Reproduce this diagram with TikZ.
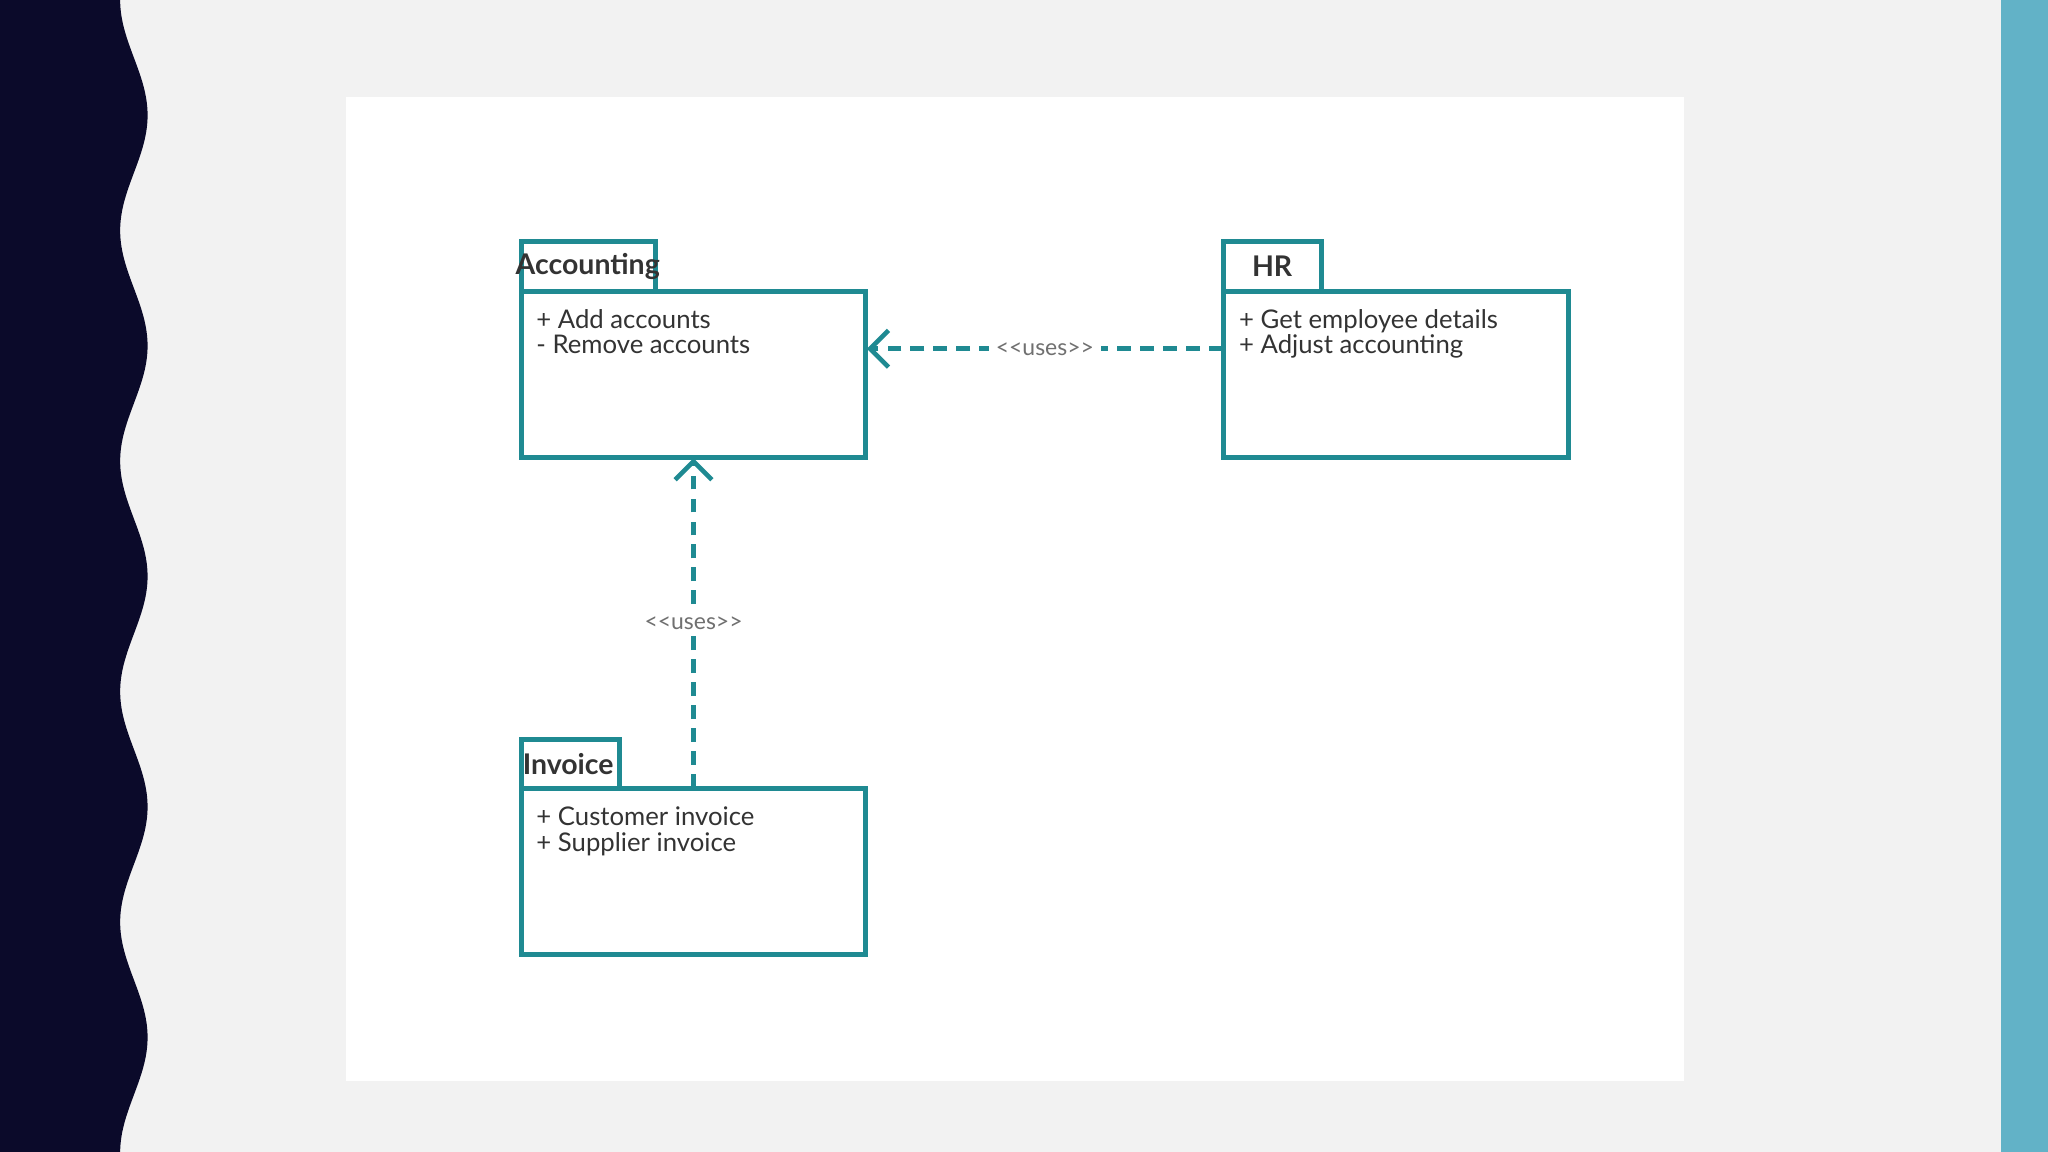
\documentclass[tikz,border=0pt]{standalone}
\usepackage{fontspec}
\setmainfont{Lato}
\usetikzlibrary{arrows.meta}
\definecolor{bg}{HTML}{F2F2F2}
\definecolor{navy}{HTML}{0B0A2A}
\definecolor{band}{HTML}{62B2C7}
\definecolor{teal}{HTML}{1F8A92}
\definecolor{lbl}{HTML}{707070}
\definecolor{txt}{HTML}{333333}
\tikzset{
  pkg/.style={draw=teal, line width=1.1pt, fill=white},
  tabtxt/.style={font=\fontsize{6.2}{7}\selectfont\bfseries, text=txt},
  bodytxt/.style={font=\fontsize{5.6}{5.6}\selectfont, text=txt, align=left, anchor=north west, inner sep=0pt},
  dep/.style={draw=teal, line width=1pt, dash pattern=on 3pt off 2pt, -{Straight Barb[length=4pt,width=8pt]}},
  usel/.style={font=\fontsize{5}{6}\selectfont, text=lbl, fill=white, inner sep=1.5pt}
}
\begin{document}
\begin{tikzpicture}[x=0.01cm,y=-0.01cm]
\fill[bg] (0,0) rectangle (1568,882);
\useasboundingbox (0,0) rectangle (1568,882);
\fill[navy] (0,0) -- plot[domain=0:882,samples=300] ({102.5-10.5*cos(\x*2.0397)},\x) -- (0,882) -- cycle;
\fill[band] (1532,0) rectangle (1568,882);
\fill[white] (265,74) rectangle (1289,828);
% Accounting
\draw[pkg] (399,185) rectangle (502,223);
\node[tabtxt] at (450,204) {Accounting};
\draw[pkg] (399,223) rectangle (663,350);
\node (acc) at (531,286.5) [minimum width=2.64cm, minimum height=1.27cm, inner sep=0pt] {};
\node[bodytxt] at (410,236) {+ Add accounts\\- Remove accounts};
% HR
\draw[pkg] (937,185) rectangle (1012,223);
\node[tabtxt] at (974,204) {HR};
\draw[pkg] (937,223) rectangle (1201,350);
\node (hr) at (1069,286.5) [minimum width=2.64cm, minimum height=1.27cm, inner sep=0pt] {};
\node[bodytxt] at (948,236) {+ Get employee details\\+ Adjust accounting};
% Invoice
\draw[pkg] (399,566) rectangle (474,604);
\node[tabtxt] at (435,585) {Invoice};
\draw[pkg] (399,604) rectangle (663,731);
\node (inv) at (531,667.5) [minimum width=2.64cm, minimum height=1.27cm, inner sep=0pt] {};
\node[bodytxt] at (410,617) {+ Customer invoice\\+ Supplier invoice};
% connectors
\coordinate (hrl) at (hr.west |- 0,267);
\coordinate (accr) at (acc.east |- 0,267);
\draw[dep] (hrl) -- node[usel] {<{}<uses>{}>} (accr);
\draw[dep] (inv.north) -- node[usel] {<{}<uses>{}>} (acc.south);
\end{tikzpicture}
\end{document}
